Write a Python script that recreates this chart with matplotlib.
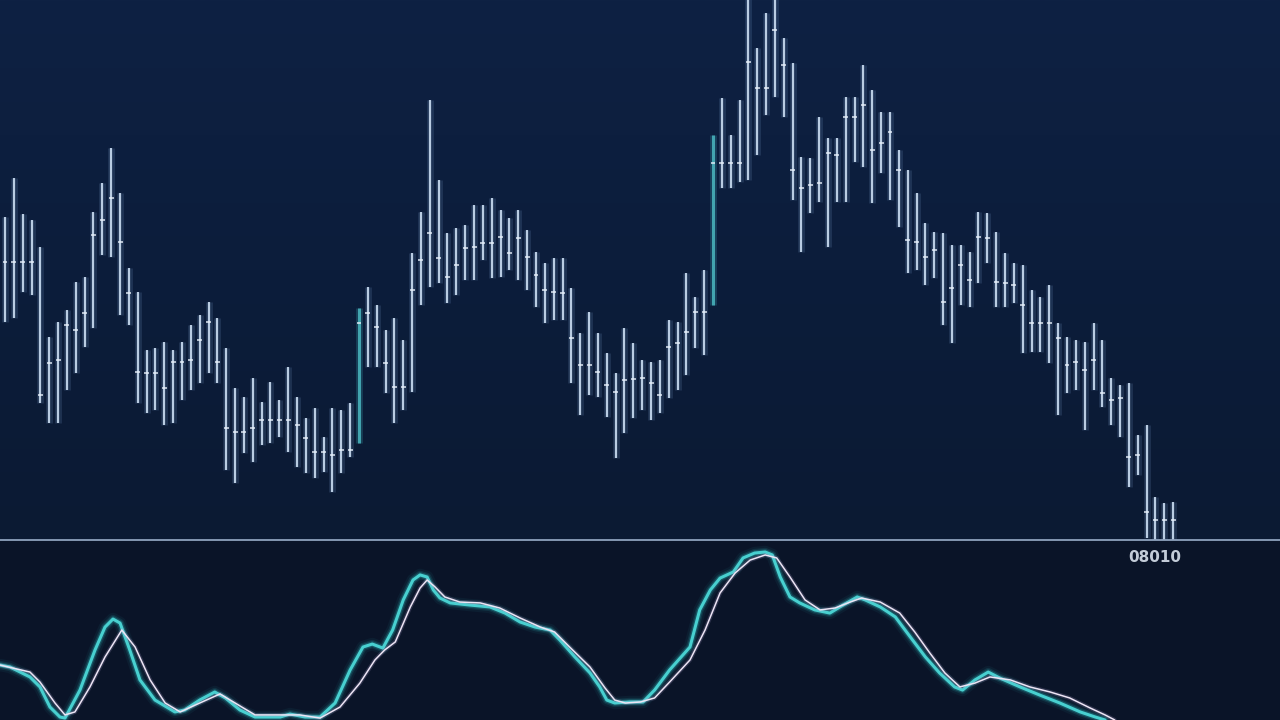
import numpy as np
import matplotlib
matplotlib.use("Agg")
import matplotlib.pyplot as plt
from matplotlib.colors import LinearSegmentedColormap

# ---------------- data ----------------
high = [52.3, 56.2, 52.6, 52.0, 49.3, 40.3, 41.8, 43.0, 45.8, 46.3, 52.8, 55.7, 59.2, 54.7, 47.2,
        44.8, 39.0, 39.2, 39.8, 39.0, 39.8, 41.5, 42.5, 43.8, 42.2, 39.2, 35.2, 34.3, 36.2, 33.8,
        35.8, 34.0, 37.3, 34.3, 32.2, 33.2, 30.3, 33.2, 33.0, 33.7, 43.2, 45.3, 43.5, 41.0, 42.2,
        40.0, 48.7, 52.8, 64.0, 56.0, 50.7, 51.2, 51.5, 53.5, 53.5, 54.2, 53.0, 52.2, 53.0, 51.0,
        48.8, 47.7, 48.2, 48.2, 45.2, 40.7, 42.8, 40.7, 38.7, 36.7, 41.2, 39.7, 38.0, 37.8, 38.0,
        42.0, 41.8, 46.7, 44.3, 47.0, 60.5, 64.2, 60.5, 64.0, 75.5, 69.2, 72.7, 75.5, 70.2, 67.7,
        58.3, 58.2, 62.3, 60.2, 60.2, 64.3, 64.3, 67.5, 65.0, 62.8, 62.8, 59.0, 57.0, 54.7, 51.7,
        50.8, 50.7, 49.5, 49.5, 48.8, 52.8, 52.7, 50.8, 48.7, 47.7, 47.5, 45.0, 44.3, 45.5, 41.7,
        40.3, 40.0, 39.8, 41.7, 40.0, 36.2, 35.5, 35.7, 30.5, 31.5, 24.3, 23.7, 23.8]
low = [41.8, 42.2, 44.8, 44.5, 33.7, 31.7, 31.7, 35.0, 36.7, 39.3, 41.2, 48.5, 48.3, 42.5, 41.5,
       33.7, 32.7, 33.0, 31.5, 31.7, 34.0, 35.0, 35.7, 36.7, 35.7, 27.0, 25.7, 28.7, 27.8, 29.5,
       29.7, 30.3, 28.8, 27.3, 26.7, 26.2, 26.8, 24.8, 26.7, 28.3, 29.7, 37.3, 37.3, 34.7, 31.7,
       33.0, 34.8, 43.5, 45.3, 45.7, 43.7, 44.5, 46.0, 46.0, 48.0, 46.2, 46.3, 47.0, 46.0, 45.0,
       43.3, 41.7, 42.0, 42.0, 35.7, 32.5, 34.5, 34.3, 32.3, 28.2, 30.7, 32.2, 33.0, 32.0, 32.7,
       34.2, 35.0, 36.5, 39.2, 38.5, 43.5, 55.2, 55.2, 55.8, 56.0, 58.5, 62.5, 64.3, 62.3, 54.0,
       48.8, 52.7, 53.8, 49.3, 53.8, 53.8, 57.8, 57.3, 53.7, 56.7, 54.0, 51.3, 46.7, 47.0, 45.5,
       46.2, 41.5, 39.7, 43.5, 43.3, 45.7, 47.7, 43.3, 43.3, 43.7, 38.7, 38.8, 38.8, 37.7, 32.5,
       34.7, 35.0, 31.0, 35.0, 33.3, 31.5, 30.3, 25.3, 26.5, 20.2, 20.0, 20.0, 20.0]
close = [47.8, 47.8, 47.8, 47.8, 34.5, 37.7, 38.0, 41.5, 41.0, 42.7, 50.5, 52.0, 54.2, 49.8, 44.7,
         36.8, 36.7, 36.7, 35.2, 37.8, 37.8, 38.0, 40.0, 41.8, 37.8, 31.2, 30.8, 30.8, 31.2, 32.0,
         32.0, 32.0, 32.0, 31.5, 30.2, 28.8, 28.8, 28.5, 29.0, 29.0, 41.7, 42.7, 41.3, 37.7, 35.3,
         35.3, 45.0, 48.0, 50.7, 48.2, 46.3, 47.5, 49.2, 49.3, 49.7, 49.7, 50.3, 48.7, 50.2, 48.3,
         46.5, 45.0, 44.8, 44.7, 40.2, 37.5, 37.5, 36.8, 35.5, 34.8, 36.0, 36.1, 36.2, 35.7, 34.5,
         39.3, 39.7, 40.8, 42.8, 42.8, 57.7, 57.7, 57.7, 57.7, 67.8, 65.2, 65.2, 71.0, 67.5, 57.0,
         55.2, 55.5, 55.7, 58.7, 58.5, 62.3, 62.3, 63.5, 59.0, 59.7, 60.8, 57.0, 50.0, 49.8, 48.3,
         49.0, 43.8, 45.2, 47.5, 46.0, 50.3, 50.2, 45.8, 45.7, 45.5, 43.5, 41.7, 41.7, 41.7, 40.2,
         37.5, 37.8, 37.0, 38.0, 34.7, 34.0, 34.2, 28.3, 28.5, 22.8, 22.0, 22.0, 22.0]
breakout_bars = [40, 80]

osc_fast_t = [-0.56, 0.56, 2.82, 3.95, 5.08, 6.21, 6.78, 8.47, 10.17, 11.3, 12.2, 13.0, 14.1, 15.25,
              16.95, 19.2, 20.3, 22.0, 23.7, 24.9, 26.55, 28.25, 31.1, 32.2, 33.9, 35.6, 37.3, 39.0,
              40.45, 41.5, 42.7, 43.8, 45.0, 46.1, 46.9, 47.7, 48.4, 49.15, 50.3, 52.5, 54.8, 56.5,
              58.2, 59.9, 61.6, 62.7, 64.4, 66.1, 67.2, 68.0, 68.9, 70.6, 72.1, 73.4, 75.1, 77.4,
              78.5, 79.7, 80.8, 82.3, 83.4, 84.7, 85.9, 86.7, 87.6, 88.7, 89.8, 91.5, 93.2, 94.7,
              96.3, 97.2, 98.9, 100.6, 102.3, 104.0, 105.6, 107.3, 108.2, 109.6, 111.1, 112.4,
              114.7, 116.9, 119.2, 121.5, 123.2, 124.3]
osc_fast = [31.4, 30.3, 24.6, 18.9, 7.4, 1.7, 1.1, 17.1, 40.0, 53.1, 57.7, 55.4, 40.0, 22.9,
            11.4, 4.6, 5.7, 11.4, 16.0, 12.6, 5.7, 1.7, 1.7, 3.4, 1.7, 1.7, 9.7, 28.6,
            41.7, 43.4, 41.1, 51.4, 68.6, 80.0, 82.9, 81.7, 74.3, 69.7, 66.9, 65.7, 64.6, 61.1,
            56.0, 53.1, 51.4, 45.7, 36.0, 26.9, 18.9, 11.4, 9.7, 10.3, 10.3, 17.1, 28.6, 41.7,
            62.9, 74.3, 81.1, 84.6, 92.6, 95.4, 96.0, 94.3, 81.7, 70.3, 66.9, 62.9, 61.1, 65.7,
            70.3, 68.6, 64.6, 58.9, 47.4, 36.0, 26.9, 18.9, 17.1, 22.9, 27.4, 24.0,
            18.9, 14.3, 9.7, 4.6, 1.7, 0.0]
osc_slow_t = [-0.56, 2.82, 3.95, 5.65, 6.78, 7.9, 9.6, 11.3, 13.2, 14.7, 16.4, 18.1, 19.8, 22.0,
              24.3, 26.0, 28.25, 33.3, 35.6, 37.85, 40.1, 41.8, 42.9, 44.1, 45.8, 46.9, 47.7, 48.6,
              49.7, 51.4, 53.7, 55.9, 58.2, 60.5, 62.1, 63.8, 66.1, 67.8, 68.9, 70.1, 71.8, 73.4,
              75.1, 77.4, 79.1, 80.8, 82.5, 84.2, 85.9, 87.2, 88.7, 90.4, 92.1, 93.8, 95.5, 96.8,
              98.9, 101.1, 102.8, 104.5, 106.2, 107.9, 109.6, 111.3, 113.6, 115.8, 118.1, 120.3,
              122.6, 124.3, 125.4]
osc_slow = [31.4, 27.4, 21.7, 9.7, 2.9, 4.6, 18.9, 36.0, 51.4, 41.7, 22.9, 9.7, 4.6, 9.7,
            14.9, 9.7, 2.9, 2.9, 1.1, 7.4, 21.1, 34.3, 40.0, 44.6, 64.6, 75.4, 80.0, 76.0,
            70.3, 67.4, 66.9, 64.0, 58.3, 53.1, 50.3, 41.7, 30.3, 18.3, 11.4, 9.7, 10.3, 12.6,
            21.7, 34.3, 51.4, 72.6, 84.0, 91.4, 94.3, 92.6, 81.7, 68.6, 62.9, 64.0, 67.4, 69.7,
            67.4, 61.1, 50.3, 38.3, 26.9, 18.9, 21.1, 24.6, 22.9, 18.9, 16.0, 12.6,
            6.9, 2.9, 0.0]
price_label = "08010"

# ---------------- figure ----------------
W, H = 1280, 720
fig = plt.figure(figsize=(W / 100, H / 100), dpi=100)
fig.patch.set_facecolor("#0a1428")

n = len(high)
x = np.arange(n)
xlim = (-0.565, 144.07)

# main price panel (top 540 px)
ax = fig.add_axes([0, 180 / 720, 1, 540 / 720])
ax.set_xlim(*xlim)
ax.set_ylim(20, 74)
grad = LinearSegmentedColormap.from_list("bg", ["#0b1a33", "#0c1d3b", "#0e2143"])
ax.imshow(np.linspace(0, 1, 256).reshape(-1, 1), aspect="auto", cmap=grad,
          extent=[xlim[0], xlim[1], 20, 74], origin="lower", zorder=0)
ax.axis("off")

for i in range(n):
    teal = i in breakout_bars
    core = "#45aab5" if teal else "#c2d5eb"
    glow = "#3aa0b0" if teal else "#7fa6d6"
    ax.vlines(x[i], low[i], high[i], color=glow, lw=5, alpha=0.25 if teal else 0.16, zorder=2)
    ax.vlines(x[i], low[i], high[i], color=core, lw=2.2 if teal else 1.6, alpha=0.95, zorder=3)
    ax.hlines(close[i], x[i] - 0.28, x[i] + 0.28, color="#e8f0fa", lw=1.3, alpha=0.8, zorder=4)

# separator line
fig.add_artist(plt.Line2D([0, 1], [180 / 720, 180 / 720], transform=fig.transFigure,
                          color="#8ea2bd", lw=1.3, zorder=10))

# oscillator panel (bottom 180 px)
ax2 = fig.add_axes([0, 0, 1, 179 / 720])
ax2.set_facecolor("#0a1428")
ax2.set_xlim(*xlim)
ax2.set_ylim(0, 100 * 179 / 175)
ax2.axis("off")

for lw, a in [(9, 0.06), (6, 0.12), (4, 0.25)]:
    ax2.plot(osc_fast_t, osc_fast, color="#2fc4c8", lw=lw, alpha=a,
             solid_capstyle="round", solid_joinstyle="round")
ax2.plot(osc_fast_t, osc_fast, color="#48d0d0", lw=2.2,
         solid_capstyle="round", solid_joinstyle="round")
ax2.plot(osc_slow_t, osc_slow, color="#b8a8d8", lw=3, alpha=0.2,
         solid_capstyle="round", solid_joinstyle="round")
ax2.plot(osc_slow_t, osc_slow, color="#ece4f4", lw=1.1,
         solid_capstyle="round", solid_joinstyle="round")

fig.text(1155 / W, 1 - 558 / H, price_label, color="#c3ccd8", fontsize=11,
         fontweight="bold", ha="center", va="center", family="DejaVu Sans Condensed")

fig.savefig("out.png", dpi=100, facecolor=fig.get_facecolor())
